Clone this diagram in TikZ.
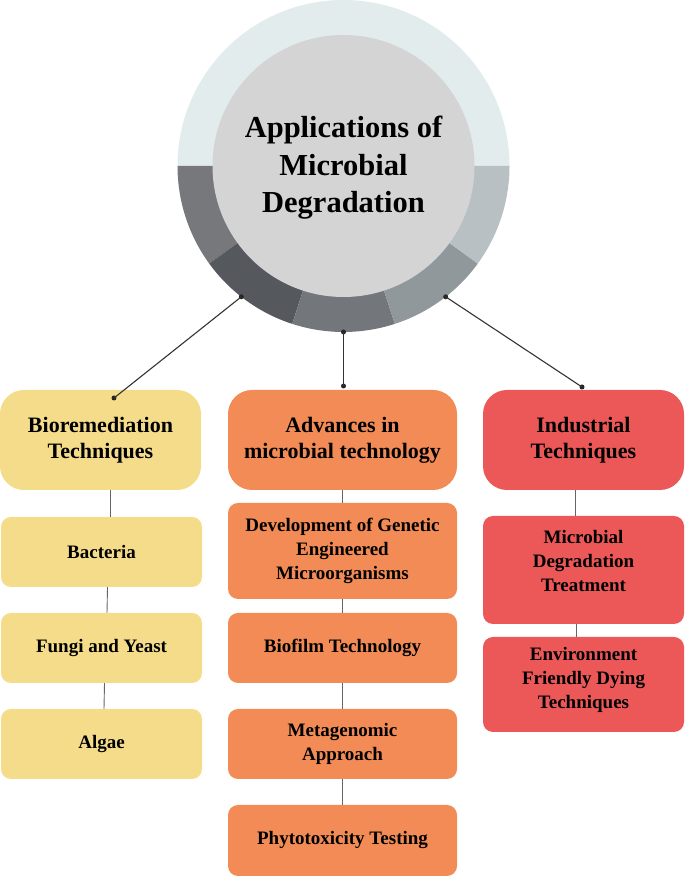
\documentclass[tikz,border=0pt]{standalone}
\usepackage{fontspec}
\setmainfont{Liberation Serif}
\usetikzlibrary{calc}
\definecolor{ringtop}{HTML}{E3ECED}
\definecolor{segA}{HTML}{77787C}
\definecolor{segB}{HTML}{55585D}
\definecolor{segC}{HTML}{73777C}
\definecolor{segD}{HTML}{91989C}
\definecolor{segE}{HTML}{B8C0C4}
\definecolor{innerc}{HTML}{D4D4D4}
\definecolor{yel}{HTML}{F5DC8A}
\definecolor{ora}{HTML}{F28B55}
\definecolor{redc}{HTML}{EC5858}
\begin{document}
\begin{tikzpicture}[x=1pt,y=1pt,
  hdr/.style={rounded corners=24pt, minimum height=100pt, inner sep=0pt, align=center,
    font=\fontsize{22}{26}\selectfont\bfseries},
  sub/.style={rounded corners=10pt, inner sep=0pt, align=center,
    font=\fontsize{19}{24}\selectfont\bfseries},
  subtext/.style={inner sep=0pt, align=center, font=\fontsize{19}{24}\selectfont\bfseries},
  link/.style={draw=black!80, line width=1.1pt},
  vlink/.style={draw=black!60, line width=0.9pt},
  dot/.style={circle, fill=black!85, inner sep=0pt, minimum size=5pt}]
\useasboundingbox (0,0) rectangle (685,877);
% ring
\coordinate (C) at (343.5,711);
\fill[ringtop] (C) -- ++(0:166) arc[start angle=0,end angle=180,radius=166] -- cycle;
\foreach \a/\b/\c in {180/216/segA,216/252/segB,252/288/segC,288/324/segD,324/360/segE}{
  \fill[\c] (C) -- ++(\a:166) arc[start angle=\a,end angle=\b,radius=166] -- cycle;
}
\fill[innerc] (C) circle[radius=131];
\node[font=\fontsize{30.5}{37.5}\selectfont\bfseries, align=center, inner sep=0pt] (title) at (343.5,709)
  {Applications of\\Microbial\\Degradation};
% headers
\node[hdr, fill=yel, minimum width=201pt] (bio) at (100.5,437) {Bioremediation\\Techniques};
\node[hdr, fill=ora, minimum width=229pt] (adv) at (342.5,437) {Advances in\\microbial technology};
\node[hdr, fill=redc, minimum width=201pt] (ind) at (583.5,437) {Industrial\\Techniques};
% left column
\node[sub, fill=yel, minimum width=201pt, minimum height=70pt] (bact) at (101.5,325) {Bacteria};
\node[sub, fill=yel, minimum width=201pt, minimum height=70pt] (fungi) at (101.5,229) {Fungi and Yeast};
\node[sub, fill=yel, minimum width=201pt, minimum height=70pt] (algae) at (101.5,133) {Algae};
% middle column
\node[sub, fill=ora, minimum width=229pt, minimum height=96pt] (dev) at (342.5,326)
  {Development of Genetic\\Engineered\\Microorganisms};
\node[sub, fill=ora, minimum width=229pt, minimum height=70pt] (biof) at (342.5,229) {Biofilm Technology};
\node[sub, fill=ora, minimum width=229pt, minimum height=70pt] (meta) at (342.5,133) {Metagenomic\\Approach};
\node[sub, fill=ora, minimum width=229pt, minimum height=71pt] (phyto) at (342.5,36.5) {Phytotoxicity Testing};
% right column
\node[sub, fill=redc, minimum width=201pt, minimum height=108pt] (mdt) at (583.5,307) {};
\node[subtext] (mdtt) at (583.5,316) {Microbial\\Degradation\\Treatment};
\node[sub, fill=redc, minimum width=201pt, minimum height=95pt] (env) at (583.5,192.5) {};
\node[subtext] (envt) at (583.5,197) {Environment\\Friendly Dying\\Techniques};
% connectors from circle
\node[dot] (pL) at ($(C)+(232:166)$) {};
\node[dot] (pM) at ($(C)+(270:166)$) {};
\node[dot] (pR) at ($(C)+(308:166)$) {};
\node[dot] (qL) at (114,479) {};
\node[dot] (qM) at (343.5,491) {};
\node[dot] (qR) at (582,490) {};
\draw[link] (pL.center) -- (qL.center);
\draw[link] (pM.center) -- (qM.center);
\draw[link] (pR.center) -- (qR.center);
% vertical links
\draw[vlink] ([xshift=9.5pt]bio.south) -- ([xshift=8.5pt]bact.north);
\draw[vlink] ([xshift=6pt]bact.south) -- ([xshift=5.5pt]fungi.north);
\draw[vlink] ([xshift=3pt]fungi.south) -- ([xshift=2.5pt]algae.north);
\draw[vlink] (adv.south) -- (dev.north);
\draw[vlink] (dev.south) -- (biof.north);
\draw[vlink] (biof.south) -- (meta.north);
\draw[vlink] (meta.south) -- (phyto.north);
\draw[vlink] ([xshift=-8pt]ind.south) -- ([xshift=-8pt]mdt.north);
\draw[vlink] ([xshift=-7pt]mdt.south) -- ([xshift=-7pt]env.north);
\end{tikzpicture}
\end{document}
